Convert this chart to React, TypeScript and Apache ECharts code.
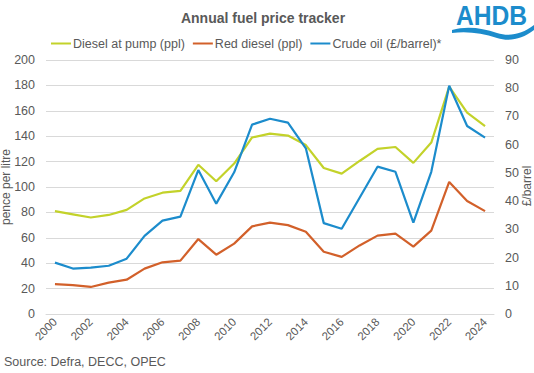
import React, { useEffect, useRef } from "react";
import * as echarts from "echarts";

const years = ["2000","2001","2002","2003","2004","2005","2006","2007","2008","2009","2010","2011","2012","2013","2014","2015","2016","2017","2018","2019","2020","2021","2022","2023","2024"];
const dieselPump = [81, 78.5, 76, 78, 82, 91, 95.5, 97, 117.5, 104.5, 118.5, 139, 142, 140.5, 133, 115, 110.5, 120.5, 130, 131.5, 119, 135, 179, 158.5, 148];
const redDiesel = [23.6, 22.8, 21.3, 24.7, 27, 35.7, 40.7, 42, 59, 46.7, 55.4, 69, 72, 70, 64.8, 49, 45, 54, 61.7, 63.3, 53, 65.6, 104, 89, 81];
const crudeOil = [18.2, 16.1, 16.4, 17.1, 19.6, 27.7, 33.1, 34.5, 51, 39.1, 50.2, 67.1, 69.2, 67.8, 58.7, 32.2, 30.2, 41.2, 52.2, 50.4, 32.4, 50.4, 80.9, 66.6, 62.5];

const FONT = "Liberation Sans, Arial, sans-serif";
const GREY = "#595959";

echarts.graphic.registerShape(
  "ahdbWave",
  echarts.graphic.extendPath(
    "M0 6 C 15 2 30 4 45 9 C 58 13 70 10 82 1 L 82 6 C 70 15 58 18 45 14 C 30 9 15 7 0 9 Z",
    {}
  )
);

export default function App() {
  const ref = useRef<HTMLDivElement>(null);
  useEffect(() => {
    document.body.style.margin = "0";
    if (!ref.current) return;
    const chart = echarts.init(ref.current, null, { renderer: "svg" });
    chart.setOption({
      animation: false,
      textStyle: { fontFamily: FONT },
      title: {
        text: "Annual fuel price tracker",
        left: 258,
        textAlign: "center",
        top: 6,
        textStyle: { fontSize: 14, fontWeight: "bold", color: GREY, fontFamily: FONT },
      },
      legend: {
        top: 32,
        left: 46,
        itemWidth: 20,
        itemHeight: 2,
        itemGap: 8,
        icon: "rect",
        textStyle: { fontSize: 12.5, color: GREY, fontFamily: FONT, padding: [0, 0, 0, -3] },
        data: ["Diesel at pump (ppl)", "Red diesel (ppl)", "Crude oil (£/barrel)*"],
      },
      grid: { left: 46, right: 40, top: 60, bottom: 59, containLabel: false },
      xAxis: {
        type: "category",
        data: years,
        boundaryGap: true,
        axisLine: { show: true, lineStyle: { color: "#d9d9d9" } },
        axisTick: { show: false },
        axisLabel: { interval: 1, rotate: 45, fontSize: 11.5, color: GREY, margin: 6, fontFamily: FONT },
      },
      yAxis: [
        {
          type: "value",
          min: 0,
          max: 200,
          interval: 20,
          axisLine: { show: false },
          axisTick: { show: false },
          axisLabel: { fontSize: 12.5, color: GREY, margin: 11, fontFamily: FONT },
          splitLine: { lineStyle: { color: "#d9d9d9" } },
        },
        {
          type: "value",
          min: 0,
          max: 90,
          interval: 10,
          axisLine: { show: false },
          axisTick: { show: false },
          axisLabel: { fontSize: 12.5, color: GREY, margin: 11, fontFamily: FONT },
          splitLine: { show: false },
        },
      ],
      series: [
        {
          name: "Diesel at pump (ppl)",
          type: "line",
          data: dieselPump,
          yAxisIndex: 0,
          showSymbol: false,
          symbol: "none",
          color: "#c3d22a",
          lineStyle: { width: 2.2, color: "#c3d22a" },
        },
        {
          name: "Red diesel (ppl)",
          type: "line",
          data: redDiesel,
          yAxisIndex: 0,
          showSymbol: false,
          symbol: "none",
          color: "#d2602a",
          lineStyle: { width: 2.2, color: "#d2602a" },
        },
        {
          name: "Crude oil (£/barrel)*",
          type: "line",
          data: crudeOil,
          yAxisIndex: 1,
          showSymbol: false,
          symbol: "none",
          color: "#1c8ccc",
          lineStyle: { width: 2.2, color: "#1c8ccc" },
        },
      ],
      graphic: [
        {
          type: "text",
          x: 6,
          y: 187,
          rotation: Math.PI / 2,
          style: { text: "pence per litre", fontSize: 12, fill: GREY, fontFamily: FONT, align: "center", verticalAlign: "middle" },
        },
        {
          type: "text",
          x: 527,
          y: 186,
          rotation: Math.PI / 2,
          style: { text: "£/barrel", fontSize: 12, fill: GREY, fontFamily: FONT, align: "center", verticalAlign: "middle" },
        },
        {
          type: "text",
          left: 4,
          top: 355,
          style: { text: "Source: Defra, DECC, OPEC", fontSize: 12.5, fill: GREY, fontFamily: FONT },
        },
        {
          type: "group",
          x: 456,
          y: 1,
          scaleX: 0.88,
          children: [
            {
              type: "text",
              x: 0,
              y: 0,
              style: { text: "AHDB", fontSize: 28, fontWeight: "bold", fill: "#1c8ccc", fontFamily: FONT },
            },
          ],
        },
        {
          type: "ahdbWave",
          x: 452,
          y: 24,
          z: 100,
          shape: {},
          style: { fill: "#1c8ccc", stroke: "none" },
        },
      ],
    });
    return () => chart.dispose();
  }, []);
  return <div ref={ref} style={{ width: 534, height: 373 }} />;
}
